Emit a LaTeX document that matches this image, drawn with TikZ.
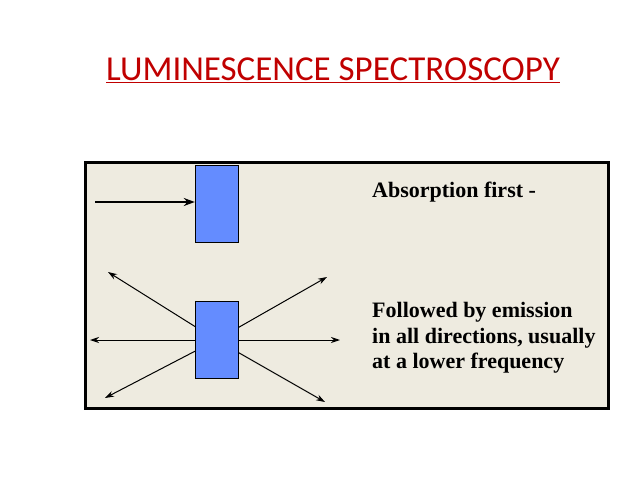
\documentclass[tikz,border=0pt]{standalone}
\usepackage{fontspec}
\setmainfont{Liberation Serif}
\newfontfamily\calib{Carlito}
\usetikzlibrary{arrows.meta}
\definecolor{titred}{RGB}{192,0,0}
\definecolor{boxbg}{RGB}{238,235,224}
\definecolor{blk}{RGB}{100,140,255}
\begin{document}
\begin{tikzpicture}[x=1pt,y=-1pt,
  sample/.style={draw=black,fill=blk,minimum width=43pt,minimum height=77pt,inner sep=0pt},
  ray/.style={-{Stealth[length=9pt,width=6pt]},line width=1pt},
  txt/.style={font=\bfseries\fontsize{22}{25.5}\selectfont,anchor=west,align=left,inner sep=0pt}]
\useasboundingbox (0,0) rectangle (638,479);
\node[font=\calib\fontsize{35}{38}\selectfont,text=titred] (title) at (333,70) {\underline{LUMINESCENCE SPECTROSCOPY}};
\node[draw=black,line width=3pt,fill=boxbg,minimum width=523pt,minimum height=246pt,inner sep=0pt] (frame) at (346.5,285) {};
\coordinate (c) at (216.5,340);
\coordinate (ul) at (108,272);
\coordinate (ur) at (327,277);
\coordinate (l) at (90,340);
\coordinate (r) at (340,340);
\coordinate (dl) at (105,398);
\coordinate (dr) at (325,402);
\foreach \t in {ul,ur,l,r,dl,dr} \draw[ray] (c) -- (\t);
\node[sample] (s2) at (c) {};
\node[sample] (s1) at (216.5,203.5) {};
\coordinate (a0) at (95,202);
\draw[-{Stealth[length=11pt,width=8pt]},line width=2.2pt] (a0) -- (s1.west|-a0);
\node[txt] (t1) at (372,192) {Absorption first -};
\node[txt] (t2) at (372,338) {Followed by emission\\in all directions, usually\\at a lower frequency};
\end{tikzpicture}
\end{document}
